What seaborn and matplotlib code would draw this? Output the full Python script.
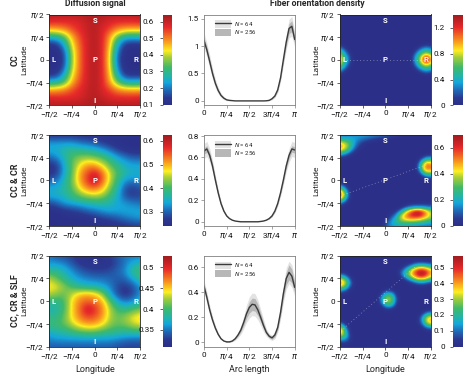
import numpy as np
import matplotlib
matplotlib.use("Agg")
import matplotlib.pyplot as plt
from matplotlib.colors import LinearSegmentedColormap
from matplotlib.legend_handler import HandlerTuple
from matplotlib.patches import Patch
import seaborn as sns

sns.set_theme(style="ticks")
plt.rcParams['font.family'] = ['Roboto', 'DejaVu Sans']
plt.rcParams['mathtext.fontset'] = 'dejavusans'

PI = np.pi
W, H = 474, 383

row_names = ["CC", "CC & CR", "CC, CR & SLF"]

signal_cc = [
 [.62,.62,.62,.62,.62,.63,.63,.63,.62,.62,.62,.62,.62],
 [.58,.57,.57,.57,.58,.60,.62,.60,.58,.57,.57,.57,.58],
 [.47,.48,.50,.54,.57,.60,.62,.58,.55,.50,.48,.47,.47],
 [.27,.28,.33,.46,.54,.59,.62,.58,.48,.35,.27,.26,.27],
 [.12,.13,.24,.42,.52,.59,.62,.58,.46,.26,.13,.12,.12],
 [.10,.10,.16,.39,.51,.59,.62,.58,.44,.20,.11,.10,.10],
 [.10,.10,.14,.38,.51,.59,.62,.58,.43,.18,.10,.10,.10],
 [.10,.10,.16,.39,.51,.59,.62,.58,.44,.20,.11,.10,.10],
 [.12,.13,.24,.42,.52,.59,.62,.58,.46,.26,.13,.12,.12],
 [.27,.28,.33,.46,.54,.59,.62,.58,.48,.35,.27,.26,.27],
 [.47,.48,.50,.54,.57,.60,.62,.58,.55,.50,.48,.47,.47],
 [.58,.57,.57,.57,.58,.60,.62,.60,.58,.57,.57,.57,.58],
 [.62,.62,.62,.62,.62,.63,.63,.63,.62,.62,.62,.62,.62],
]
signal_cc_cr = [
 [.26,.26,.26,.26,.26,.26,.26,.26,.26,.26,.26,.25,.25],
 [.33,.33,.33,.33,.31,.30,.29,.27,.26,.25,.25,.25,.25],
 [.35,.35,.37,.38,.38,.37,.36,.34,.31,.28,.26,.25,.25],
 [.30,.32,.36,.41,.43,.44,.43,.41,.38,.34,.32,.30,.30],
 [.26,.27,.34,.41,.47,.51,.51,.47,.42,.38,.35,.34,.34],
 [.26,.27,.34,.41,.50,.55,.59,.54,.46,.41,.37,.35,.35],
 [.30,.31,.36,.42,.50,.56,.61,.55,.46,.39,.33,.32,.33],
 [.34,.35,.37,.41,.47,.52,.54,.50,.43,.37,.29,.27,.29],
 [.35,.35,.36,.39,.42,.44,.45,.44,.40,.35,.29,.27,.28],
 [.28,.30,.33,.34,.35,.36,.37,.37,.36,.34,.33,.32,.31],
 [.25,.25,.26,.27,.28,.30,.31,.33,.34,.34,.34,.34,.34],
 [.245,.245,.25,.25,.25,.25,.26,.27,.28,.29,.31,.32,.33],
 [.245,.245,.245,.245,.245,.245,.25,.25,.25,.26,.26,.27,.27],
]
signal_cc_cr_slf = [
 [.35,.34,.335,.33,.32,.32,.32,.32,.33,.34,.35,.35,.35],
 [.36,.36,.355,.34,.325,.32,.32,.32,.32,.335,.35,.37,.38],
 [.39,.39,.375,.36,.345,.335,.33,.33,.335,.345,.355,.39,.40],
 [.43,.41,.39,.37,.36,.355,.35,.35,.345,.34,.345,.365,.39],
 [.445,.44,.42,.40,.385,.375,.375,.365,.355,.335,.325,.335,.36],
 [.43,.42,.41,.43,.45,.46,.45,.425,.37,.335,.32,.33,.36],
 [.39,.39,.40,.445,.47,.48,.475,.46,.41,.37,.35,.36,.375],
 [.375,.38,.40,.445,.475,.515,.50,.47,.43,.40,.39,.40,.415],
 [.39,.39,.41,.445,.47,.49,.485,.465,.43,.41,.42,.44,.45],
 [.40,.40,.41,.43,.45,.46,.46,.445,.42,.41,.415,.43,.44],
 [.37,.38,.385,.395,.405,.41,.41,.40,.395,.39,.385,.39,.39],
 [.355,.36,.36,.36,.36,.36,.36,.36,.36,.355,.35,.345,.345],
 [.34,.34,.34,.34,.34,.34,.34,.34,.34,.335,.33,.33,.33],
]

# density panels: runs of non-zero cells on a 25x25 grid (row, first column, values)
fod_cc = [
 (8,0,[.05,.02]),(9,0,[.30,.15,.02]),(10,0,[.55,.40,.15,.02]),(11,0,[.88,.50,.30,.06]),
 (12,0,[.97,.62,.38,.09]),(13,0,[.88,.50,.30,.06]),(14,0,[.55,.40,.15,.02]),(15,0,[.30,.15,.02]),(16,0,[.05,.02]),
 (8,22,[.03,.05,.03]),(9,20,[.03,.15,.28,.33,.24]),(10,20,[.18,.40,.55,.62,.48]),
 (11,19,[.08,.35,.60,.92,1.04,.78]),(12,19,[.10,.42,.72,1.12,1.36,.95]),(13,19,[.08,.35,.60,.92,1.04,.78]),
 (14,20,[.18,.40,.55,.62,.48]),(15,20,[.03,.15,.28,.33,.24]),(16,22,[.03,.05,.03]),
]
fod_cc_cr = [
 (0,0,[.12,.12,.13,.14,.15,.16,.16,.16,.15,.14,.13,.12,.11,.09,.07,.05,.02]),
 (1,0,[.22,.21,.20,.19,.17,.15,.13,.11,.09,.07,.05,.04,.03,.02,.01]),
 (2,0,[.42,.38,.32,.25,.16,.10,.06,.03,.01]),(3,0,[.50,.45,.36,.24,.13,.06,.02]),
 (4,0,[.42,.37,.28,.16,.07,.02]),(5,0,[.20,.17,.11,.05,.01]),(6,0,[.04,.03,.01]),
 (5,23,[.01,.01]),(6,21,[.02,.08,.17,.16]),(7,21,[.10,.30,.40,.38]),(8,20,[.02,.20,.42,.55,.52]),
 (9,20,[.02,.18,.40,.52,.50]),(10,21,[.07,.26,.35,.33]),(11,22,[.05,.13,.12]),(12,23,[.01,.01]),
 (12,0,[.01,.005]),(13,0,[.08,.05,.01]),(14,0,[.30,.20,.05]),(15,0,[.50,.38,.14,.01]),
 (16,0,[.55,.42,.16,.02]),(17,0,[.38,.27,.08,.01]),(18,0,[.12,.08,.02]),(19,0,[.01]),
 (18,18,[.01,.03,.03,.03,.03,.03,.03]),(19,16,[.01,.06,.11,.14,.16,.16,.16,.14,.12]),
 (20,14,[.01,.05,.15,.29,.42,.52,.60,.60,.52,.42,.35]),
 (21,13,[.02,.07,.17,.35,.45,.55,.63,.68,.67,.58,.47,.38]),
 (22,12,[.01,.07,.16,.25,.38,.45,.50,.52,.50,.48,.42,.38,.33]),
 (23,12,[.05,.14,.20,.25,.29,.30,.30,.30,.29,.27,.25,.22,.20]),
 (24,11,[.01,.08,.14,.16,.17,.18,.18,.17,.15,.14,.13,.12,.12,.12]),
]
fod_cc_cr_slf = [
 (2,18,[.01,.05,.09,.11,.11,.09,.07]),(3,16,[.01,.06,.14,.22,.30,.34,.34,.30,.25]),
 (4,15,[.01,.07,.16,.26,.37,.47,.54,.54,.47,.38]),(5,16,[.07,.17,.28,.38,.47,.55,.55,.47,.37]),
 (6,17,[.06,.14,.23,.31,.36,.35,.30,.24]),(7,18,[.02,.05,.10,.13,.13,.10,.07]),(8,20,[.005,.01,.01]),
 (4,0,[.01,.005]),(5,0,[.12,.10,.04,.005]),(6,0,[.32,.28,.15,.04,.005]),(7,0,[.42,.37,.24,.08,.01]),
 (8,0,[.34,.30,.17,.05,.01]),(9,0,[.15,.12,.06,.01]),(10,0,[.02,.02,.005]),
 (9,12,[.03,.04,.02]),(10,11,[.05,.17,.20,.14,.02]),(11,10,[.01,.14,.27,.30,.22,.06]),
 (12,10,[.01,.14,.27,.30,.22,.06]),(13,11,[.05,.17,.20,.14,.02]),(14,12,[.03,.04,.02]),
 (14,23,[.005,.01]),(15,22,[.04,.11,.13]),(16,21,[.04,.17,.30,.34]),(17,21,[.06,.20,.36,.40]),
 (18,21,[.03,.13,.27,.31]),(19,22,[.03,.08,.10]),(20,23,[.01,.01]),
 (17,0,[.02,.005]),(18,0,[.15,.08,.01]),(19,0,[.36,.24,.06]),(20,0,[.42,.30,.11,.01]),
 (21,0,[.30,.26,.14,.02]),(22,0,[.14,.14,.09,.02]),(23,0,[.03,.04,.03,.01]),
]

signal_grids = [signal_cc, signal_cc_cr, signal_cc_cr_slf]
fod_runs = [fod_cc, fod_cc_cr, fod_cc_cr_slf]

signal_ranges = [(.096, .644), (.241, .625), (.31, .528)]
fod_ranges = [(0, 1.408), (0, .697), (0, .576)]
signal_ticks = [[.1, .2, .3, .4, .5, .6], [.3, .4, .5, .6], [.35, .4, .45, .5]]
signal_ticklabels = [["0.1", "0.2", "0.3", "0.4", "0.5", "0.6"], ["0.3", "0.4", "0.5", "0.6"], ["0.35", "0.4", "0.45", "0.5"]]
fod_ticks = [[0, .4, .8, 1.2], [0, .2, .4, .6], [0, .1, .2, .3, .4, .5]]
fod_ticklabels = [["0", "0.4", "0.8", "1.2"], ["0", "0.2", "0.4", "0.6"], ["0", "0.1", "0.2", "0.3", "0.4", "0.5"]]

# arc-length samples, one per pi/32
arc_steps = list(range(33))
arc_cc = [1.10,.93,.72,.50,.32,.19,.10,.05,.02,.01,.005,0,0,0,0,0,0,0,0,0,0,0,.002,.01,.04,.09,.20,.42,.75,1.07,1.32,1.36,1.12]
arc_cc_cr = [.66,.68,.62,.52,.39,.27,.17,.10,.055,.03,.015,.007,.003,0,0,0,0,0,0,0,.003,.007,.015,.03,.055,.10,.17,.27,.39,.52,.62,.68,.67]
arc_cc_cr_slf = [.45,.36,.26,.18,.115,.065,.03,.012,.005,.005,.012,.03,.06,.10,.16,.23,.28,.305,.30,.26,.20,.135,.08,.05,.037,.06,.12,.24,.39,.51,.56,.53,.44]
arc_curves = [arc_cc, arc_cc_cr, arc_cc_cr_slf]

band256_cc = [.06,.06,.05,.04,.03,.02,.015,.01,.005,0,0,0,0,0,0,0,0,0,0,0,0,0,0,0,.005,.01,.02,.03,.05,.07,.09,.10,.07]
band64_cc = [.14,.13,.12,.10,.08,.06,.04,.03,.015,.01,0,0,0,0,0,0,0,0,0,0,0,0,0,.01,.02,.03,.05,.07,.10,.14,.17,.18,.14]
band256_cr = [.03,.03,.03,.025,.02,.015,.01,.008,.005,.002,0,0,0,0,0,0,0,0,0,0,0,0,0,.002,.005,.008,.01,.015,.02,.025,.03,.03,.03]
band64_cr = [.07,.07,.065,.055,.045,.035,.025,.015,.01,.005,.002,0,0,0,0,0,0,0,0,0,0,0,.002,.005,.01,.015,.025,.035,.045,.055,.065,.07,.07]
band256_slf = [.02,.018,.015,.012,.01,.006,.004,.002,.002,.002,.002,.004,.008,.015,.025,.035,.045,.05,.05,.045,.035,.025,.015,.012,.012,.015,.02,.03,.04,.05,.06,.055,.04]
band64_slf = [.05,.045,.04,.03,.022,.015,.008,.004,.003,.004,.006,.012,.022,.035,.05,.07,.085,.09,.09,.08,.065,.05,.03,.022,.022,.03,.04,.055,.07,.085,.09,.09,.07]
bands256 = [band256_cc, band256_cr, band256_slf]
bands64 = [band64_cc, band64_cr, band64_slf]
arc_ylims = [(-.08, 1.575), (-.0375, .81), (-.032, .693)]
arc_yticks = [[0, .5, 1, 1.5], [0, .2, .4, .6, .8], [0, .2, .4, .6]]
arc_yticklabels = [["0", "0.5", "1", "1.5"], ["0", "0.2", "0.4", "0.6", "0.8"], ["0", "0.2", "0.4", "0.6"]]

# fiber arcs drawn on the density panels: (lon, lat) end points
arc_lon = [[-1.45, 1.35], [-1.45, 1.45], [-1.45, 1.05]]
arc_lat = [[0.0, 0.0], [-0.5, 0.55], [-0.95, 1.2]]

lon_ticks = [-PI/2, -PI/4, 0, PI/4, PI/2]
lon_labels = ["−$\\pi$/2", "−$\\pi$/4", "0", "$\\pi$/4", "$\\pi$/2"]
len_ticks = [0, PI/4, PI/2, 3*PI/4, PI]
len_labels = ["0", "$\\pi$/4", "$\\pi$/2", "3$\\pi$/4", "$\\pi$"]

marker_names = ["S", "I", "L", "R", "P"]
marker_lon = [0, 0, -1.42, 1.42, 0]
marker_lat = [1.375, -1.39, 0, 0, 0]

cmap = LinearSegmentedColormap.from_list("fod", [
    (0.00, "#2b2f88"), (0.08, "#2b3990"), (0.17, "#1f6cb8"), (0.25, "#15a6dc"),
    (0.32, "#22b5a8"), (0.42, "#3fb96a"), (0.53, "#a6ce39"), (0.60, "#fdee21"), (0.71, "#f7941d"),
    (0.86, "#e6282a"), (1.00, "#9e1b1e")], N=256)

fig = plt.figure(figsize=(W/100, H/100), dpi=100, facecolor="white")

def axpx(x0, x1, y0, y1):
    return fig.add_axes([x0/W, 1 - y1/H, (x1-x0)/W, (y1-y0)/H])

FS = 5.9
GREY = "#808080"
row_top = [14.5, 135.0, 255.7]
row_h = 90.8

def style(ax, color="#222222"):
    ax.tick_params(length=2.2, width=.5, labelsize=FS, pad=1.5, color=color, labelcolor="#111111")
    for s in ax.spines.values():
        s.set_linewidth(.6)
        s.set_color(color)

def heat(x0, grid, vr, cx0, ticks, ticklabels, row, label_x, fiber=False):
    top = row_top[row]
    ax = axpx(x0, x0+90.7, top, top+row_h)
    g = np.array(grid, dtype=float)
    step = PI/(len(g)-1)
    im = ax.imshow(g, cmap=cmap, vmin=vr[0], vmax=vr[1], interpolation="bicubic",
                   extent=[-PI/2-step/2, PI/2+step/2, -PI/2-step/2, PI/2+step/2], aspect="auto")
    ax.set_xlim(-PI/2, PI/2)
    ax.set_ylim(-PI/2, PI/2)
    ax.set_xticks(lon_ticks, lon_labels)
    ax.set_yticks(lon_ticks, lon_labels)
    ax.set_ylabel("Latitude", fontsize=6.0)
    ax.yaxis.set_label_coords((label_x - x0)/90.7, .5)
    style(ax)
    if fiber:
        ax.plot(arc_lon[row], arc_lat[row], ls=(0, (1, 3)), lw=.6, color="white", alpha=.45)
    for n, a, b in zip(marker_names, marker_lon, marker_lat):
        ax.text(a, b, n, color="white", fontsize=5.6, fontweight="bold", ha="center", va="center")
    cax = axpx(cx0, cx0+9.5, top, top+row_h)
    cb = fig.colorbar(im, cax=cax)
    cb.ax.yaxis.set_ticks_position("left")
    cb.set_ticks(ticks, labels=ticklabels)
    cb.outline.set_visible(False)
    cb.ax.tick_params(length=2.2, width=.5, labelsize=FS, pad=4, color="#222222", labelcolor="#111111")
    return ax

def cells(runs):
    grid = np.zeros((25, 25))
    for r, c, vals in runs:
        grid[r, c:c+len(vals)] = vals
    return grid

for r in range(3):
    ax = heat(49.4, signal_grids[r], signal_ranges[r], 162.7, signal_ticks[r], signal_ticklabels[r], r, 27)
    fig.text(15/W, 1 - (row_top[r]+row_h/2)/H, row_names[r], rotation=90, fontsize=6.4,
             fontweight="bold", ha="center", va="center")
    if r == 2:
        ax.set_xlabel("Longitude", fontsize=6.5, labelpad=3)

    ax = axpx(204, 294.7, row_top[r], row_top[r]+row_h)
    t = np.array(arc_steps) * PI / 32
    y = np.array(arc_curves[r])
    b64 = np.array(bands64[r])
    b256 = np.array(bands256[r])
    ax.fill_between(t, y-b64, y+b64, color="#e3e3e3", lw=0)
    ax.fill_between(t, y-b256, y+b256, color="#b7b7b7", lw=0)
    sns.lineplot(x=t, y=y, ax=ax, color="#3a3a3a", lw=1.0, errorbar=None, legend=False)
    ax.set_xlim(0, PI)
    ax.set_ylim(*arc_ylims[r])
    ax.set_xticks(len_ticks, len_labels)
    ax.set_yticks(arc_yticks[r], arc_yticklabels[r])
    style(ax, GREY)
    h = [(Patch(color="#e3e3e3", lw=0), plt.Line2D([], [], color="#3a3a3a", lw=1.0)),
         Patch(color="#b7b7b7", lw=0)]
    ax.legend(h, ["$N$ = 64", "$N$ = 256"], loc="upper left", bbox_to_anchor=(.07, .985), frameon=False,
              fontsize=4.3, handlelength=2.7, handleheight=1.5, labelspacing=.05, borderpad=.2, handletextpad=.6,
              handler_map={tuple: HandlerTuple(ndivide=1, pad=0)})
    if r == 2:
        ax.set_xlabel("Arc length", fontsize=6.5, labelpad=3)

    ax = heat(340, cells(fod_runs[r]), fod_ranges[r], 453.3, fod_ticks[r], fod_ticklabels[r], r, 319, fiber=True)
    if r == 2:
        ax.set_xlabel("Longitude", fontsize=6.5, labelpad=3)

fig.text(95/W, 1 - 3.5/H, "Diffusion signal", fontsize=6.2, fontweight="bold", ha="center", va="center")
fig.text(317.5/W, 1 - 3.5/H, "Fiber orientation density", fontsize=6.2, fontweight="bold", ha="center", va="center")

fig.savefig("out.png", dpi=100)
